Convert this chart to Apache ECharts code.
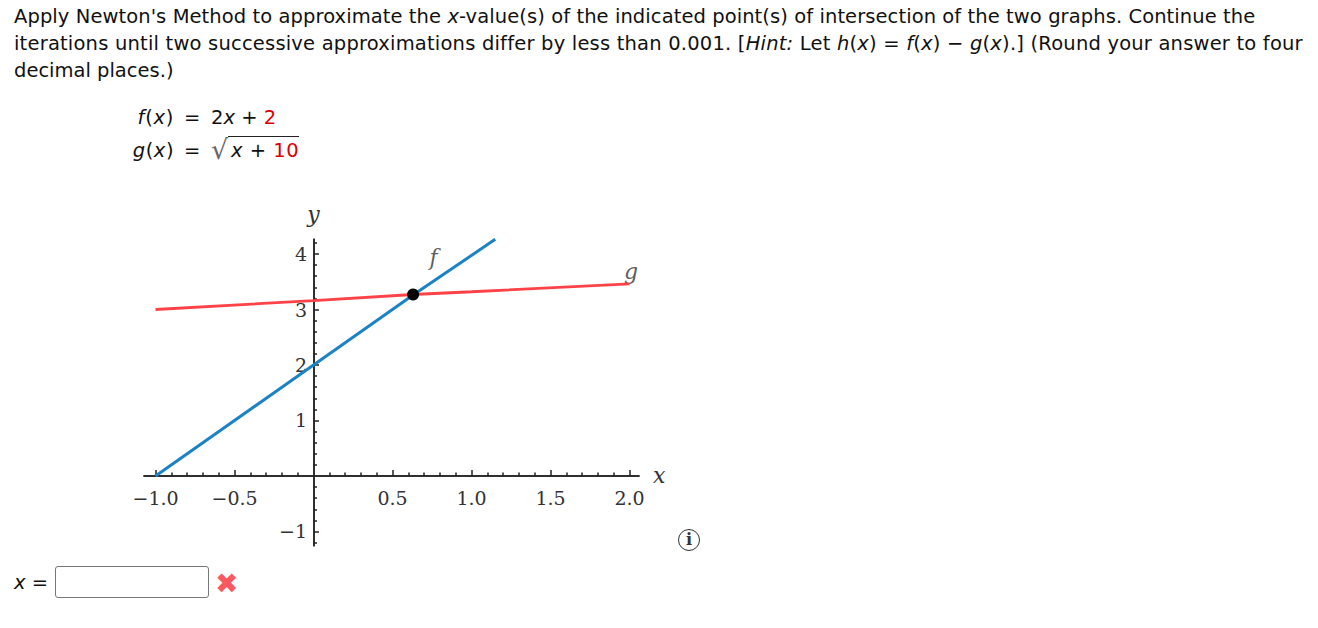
<!DOCTYPE html>
<html>
<head>
<meta charset="utf-8">
<title>Newton's Method</title>
<script src="https://cdn.jsdelivr.net/npm/echarts@6/dist/echarts.min.js"></script>
<style>
    html, body { margin: 0; padding: 0; background: #fff; }
    body { position: relative; width: 1318px; height: 628px; overflow: hidden; font-family: "DejaVu Sans", sans-serif; color: #111; }
    #chart { position: absolute; left: 0; top: 0; width: 1318px; height: 628px; }
    .txt { position: absolute; white-space: nowrap; font-size: 19.5px; line-height: 27px; }
    .red { color: #dd0000; }
    i { font-style: italic; }
    #answer { position: absolute; left: 55px; top: 566px; width: 152px; height: 30px; border: 1px solid #777; border-radius: 3px; background: #fff; padding: 0; }
    #wrong { position: absolute; left: 215px; top: 568px; font-size: 28px; line-height: 32px; color: #f9595f; }
    #info { position: absolute; left: 678px; top: 529px; width: 20px; height: 20px; border: 1px solid #333; border-radius: 50%; text-align: center; font: bold 16px/20px "DejaVu Serif", serif; color: #333; }
    #root { position: absolute; left: 228px; top: 136px; width: 71px; height: 0; border-top: 1px solid #222; }
</style>
</head>
<body>
<div id="chart"></div>
<div class="txt" style="left:14px;top:3px;letter-spacing:0.08px">Apply Newton's Method to approximate the <i>x</i>-value(s) of the indicated point(s) of intersection of the two graphs. Continue the</div>
<div class="txt" style="left:14px;top:30px;letter-spacing:0.2px">iterations until two successive approximations differ by less than 0.001. [<i>Hint:</i> Let <i>h</i>(<i>x</i>) = <i>f</i>(<i>x</i>) &minus; <i>g</i>(<i>x</i>).] (Round your answer to four</div>
<div class="txt" style="left:14px;top:57px">decimal places.)</div>
<div class="txt" style="right:1144px;top:104px;letter-spacing:0.7px"><i>f</i>(<i>x</i>)</div>
<div class="txt" style="left:184px;top:104px">=</div>
<div class="txt" style="left:211px;top:104px">2<i>x</i> + <span class="red">2</span></div>
<div class="txt" style="right:1144px;top:137px;letter-spacing:0.5px"><i>g</i>(<i>x</i>)</div>
<div class="txt" style="left:184px;top:137px">=</div>
<div class="txt" style="left:211px;top:136px;color:#666;font-size:27px">&radic;</div>
<div class="txt" style="left:231px;top:137px;letter-spacing:0.5px"><i>x</i> + <span class="red">10</span></div>
<div id="root"></div>
<div class="txt" style="left:14px;top:569px"><i>x</i> =</div>
<input id="answer" type="text">
<div id="wrong">&#10006;</div>
<div id="info">i</div>
<script>
// values
var fLine = [[-1, 0], [0, 2], [0.63, 3.26], [1.15, 4.265]];
var gLine = [[-1, 3.0], [0, 3.16], [0.63, 3.27], [1, 3.32], [2, 3.46]];
var crossing = [[0.63, 3.27]];
var fLabelAt = [[0.76, 3.93]];
var gLabelAt = [[2.01, 3.68]];

var xMajor = [-1, -0.5, 0.5, 1, 1.5, 2];
var xMinor = [-0.9, -0.8, -0.7, -0.6, -0.4, -0.3, -0.2, -0.1, 0.1, 0.2, 0.3, 0.4, 0.6, 0.7, 0.8, 0.9, 1.1, 1.2, 1.3, 1.4, 1.6, 1.7, 1.8, 1.9];
var yMajor = [-1, 1, 2, 3, 4];
var yMinor = [-1.2, -0.8, -0.6, -0.4, -0.2, 0.2, 0.4, 0.6, 0.8, 1.2, 1.4, 1.6, 1.8, 2.2, 2.4, 2.6, 2.8, 3.2, 3.4, 3.6, 3.8, 4.2];

var xMin = -1.073, xMax = 2.06, yMin = -1.256, yMax = 4.265;
var serif = '"DejaVu Serif", serif';
var axisColor = '#222';

// second grid sits on the first one and only carries the minor ticks
var gridBox = {left: 144, right: 679, top: 239.3, bottom: 82.3};

function labelSeries(data, text) {
    return {
        type: 'scatter',
        xAxisIndex: 0,
        yAxisIndex: 0,
        data: data,
        symbolSize: 1,
        itemStyle: {color: 'transparent'},
        silent: true,
        label: {
            show: true,
            position: 'inside',
            formatter: text,
            fontFamily: serif,
            fontStyle: 'italic',
            fontSize: 22,
            color: '#333'
        }
    };
}

var chart = echarts.init(document.getElementById('chart'), null, {renderer: 'svg'});
chart.setOption({
    animation: false,
    grid: [gridBox, gridBox],
    xAxis: [{
        type: 'value',
        gridIndex: 0,
        min: xMin,
        max: xMax,
        name: 'x',
        nameLocation: 'end',
        nameGap: 14,
        nameTextStyle: {fontFamily: serif, fontStyle: 'italic', fontSize: 22, color: '#333', padding: [4, 0, 0, 0]},
        splitLine: {show: false},
        axisLine: {onZero: true, symbol: 'none', lineStyle: {color: axisColor, width: 1.5}},
        axisTick: {show: true, inside: true, length: 6, customValues: xMajor, lineStyle: {color: axisColor, width: 1.5}},
        axisLabel: {
            show: true,
            // labels stay at the grid edge even with onZero, pull them back to the line
            margin: -57,
            customValues: xMajor,
            fontFamily: serif,
            fontSize: 19,
            color: '#333',
            formatter: function (v) {
                return (v < 0 ? '\u2212' : '') + Math.abs(v).toFixed(1);
            }
        }
    }, {
        type: 'value',
        gridIndex: 1,
        min: xMin,
        max: xMax,
        splitLine: {show: false},
        axisLine: {onZero: true, symbol: 'none', lineStyle: {color: axisColor, width: 1.5}},
        axisTick: {show: true, inside: true, length: 3.5, customValues: xMinor, lineStyle: {color: axisColor, width: 1.5}},
        axisLabel: {show: false}
    }],
    yAxis: [{
        type: 'value',
        gridIndex: 0,
        min: yMin,
        max: yMax,
        name: 'y',
        nameLocation: 'end',
        nameGap: 14,
        nameTextStyle: {fontFamily: serif, fontStyle: 'italic', fontSize: 22, color: '#333'},
        splitLine: {show: false},
        axisLine: {onZero: true, symbol: 'none', lineStyle: {color: axisColor, width: 1.5}},
        axisTick: {show: true, inside: true, length: 5.5, customValues: yMajor, lineStyle: {color: axisColor, width: 1.5}},
        axisLabel: {
            show: true,
            margin: -163,
            customValues: yMajor,
            fontFamily: serif,
            fontSize: 19,
            color: '#333',
            formatter: function (v) {
                return (v < 0 ? '\u2212' : '') + Math.abs(v);
            }
        }
    }, {
        type: 'value',
        gridIndex: 1,
        min: yMin,
        max: yMax,
        splitLine: {show: false},
        axisLine: {onZero: true, symbol: 'none', lineStyle: {color: axisColor, width: 1.5}},
        axisTick: {show: true, inside: true, length: 3.5, customValues: yMinor, lineStyle: {color: axisColor, width: 1.5}},
        axisLabel: {show: false}
    }],
    series: [{
        name: 'f',
        type: 'line',
        xAxisIndex: 0,
        yAxisIndex: 0,
        data: fLine,
        showSymbol: false,
        silent: true,
        lineStyle: {color: '#1b83c5', width: 3}
    }, {
        name: 'g',
        type: 'line',
        xAxisIndex: 0,
        yAxisIndex: 0,
        data: gLine,
        showSymbol: false,
        silent: true,
        lineStyle: {color: '#ff4248', width: 2.8}
    }, {
        type: 'scatter',
        xAxisIndex: 0,
        yAxisIndex: 0,
        data: crossing,
        symbolSize: 12,
        silent: true,
        itemStyle: {color: '#000', opacity: 1},
        z: 5
    }, labelSeries(fLabelAt, 'f'), labelSeries(gLabelAt, 'g')]
});
</script>
</body>
</html>
